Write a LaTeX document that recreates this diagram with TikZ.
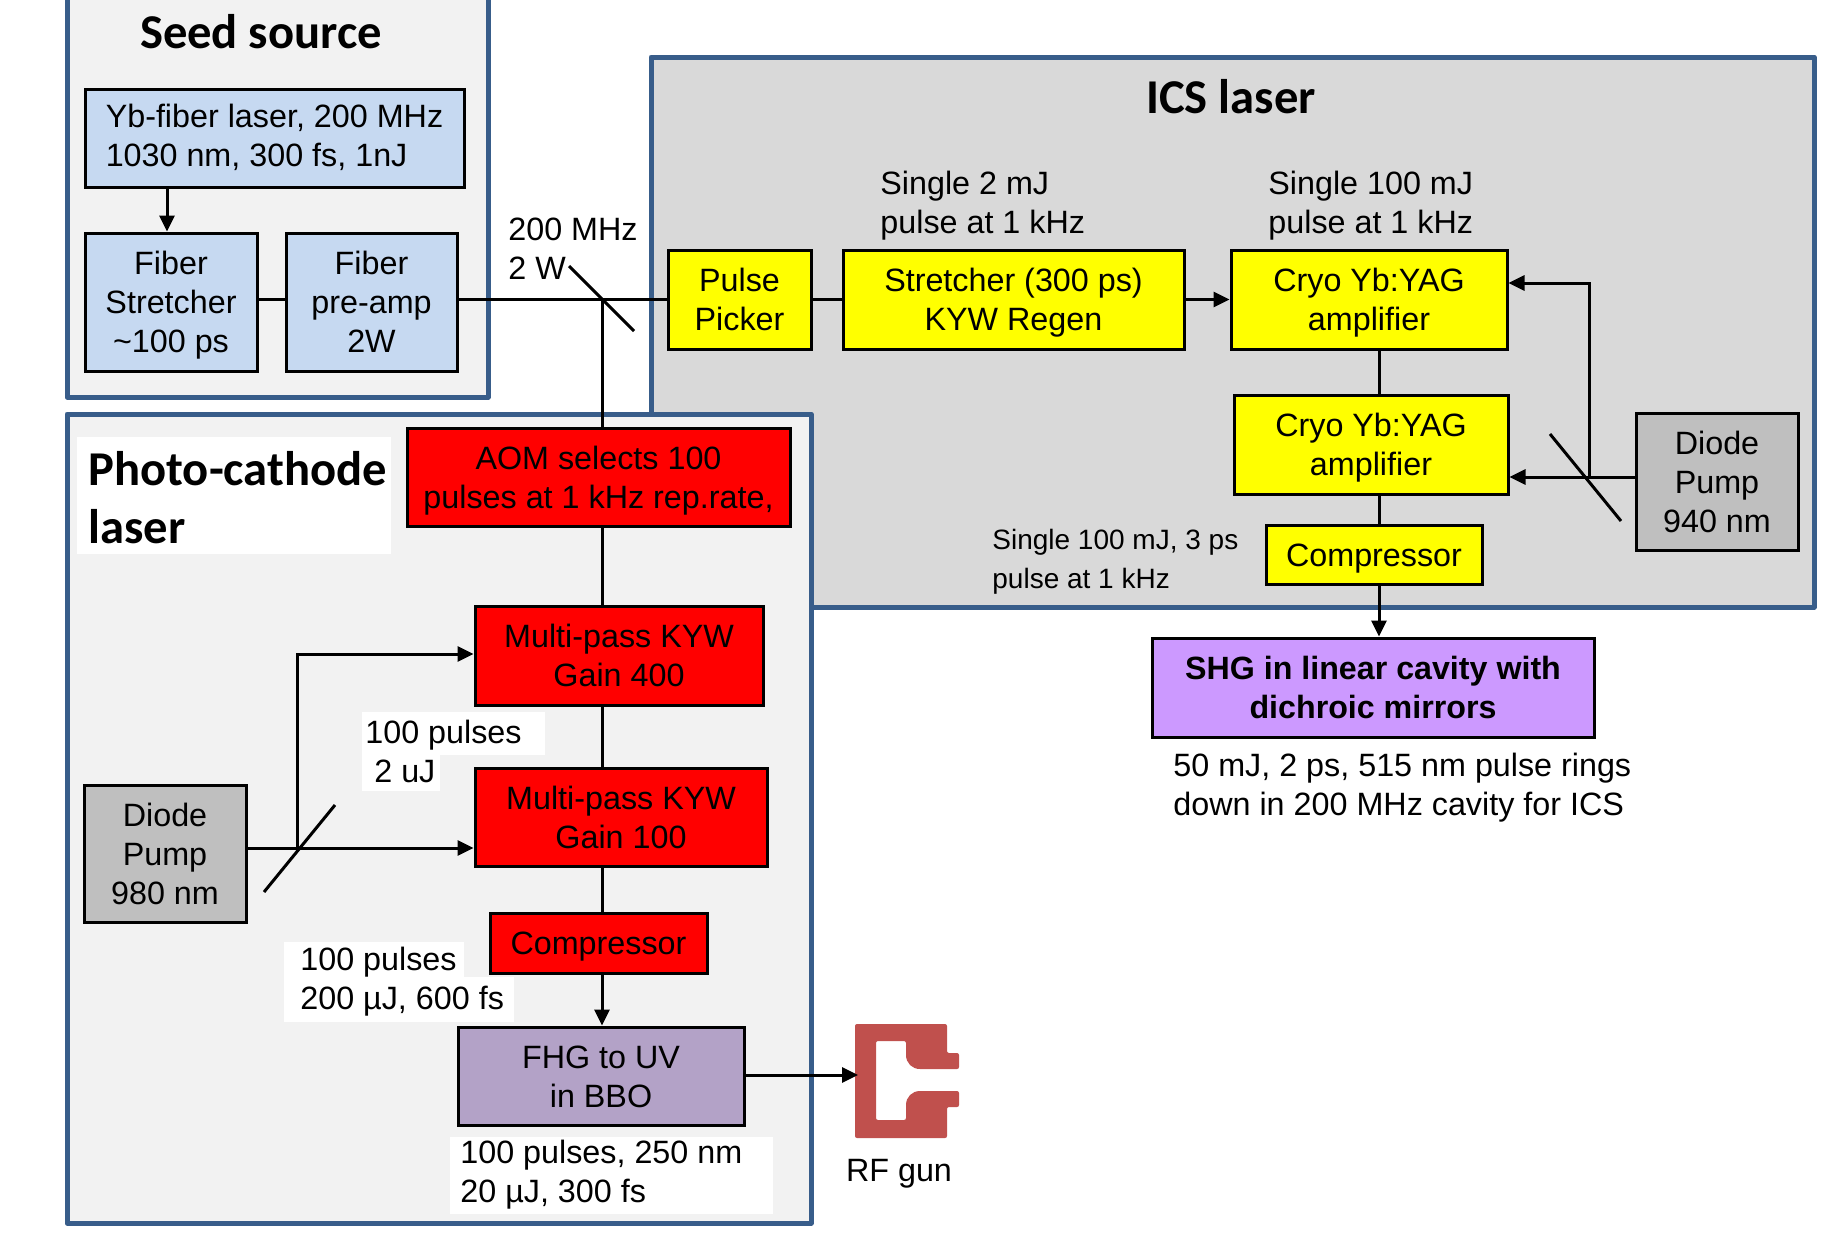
\documentclass[tikz,border=0pt]{standalone}
\usepackage{fontspec}
\setmainfont{Liberation Sans}
\newfontfamily\headfont{Carlito}
\usetikzlibrary{arrows.meta}
\definecolor{framecol}{HTML}{385D8A}
\definecolor{seedbg}{HTML}{F2F2F2}
\definecolor{icsbg}{HTML}{D9D9D9}
\definecolor{seedcol}{HTML}{C6D9F1}
\definecolor{ampcol}{HTML}{FFFF00}
\definecolor{aomcol}{HTML}{FF0000}
\definecolor{diodecol}{HTML}{BFBFBF}
\definecolor{fhgcol}{HTML}{B3A2C7}
\definecolor{shgcol}{HTML}{CC99FF}
\definecolor{guncol}{HTML}{C0504D}
\tikzset{
  toprule/.style={execute at begin node={\rule{0pt}{#1}}},
  twoline/.style={toprule=34.5pt},
  threeline/.style={toprule=54pt},
  strutted/.style={toprule=15pt, execute at end node={\rule[-3.4pt]{0pt}{3.4pt}}},
  blockbox/.style={draw=black, line width=1.5pt, align=center, inner sep=0pt, strutted, font=\fontsize{16.15}{19.5}\selectfont},
  seedbox/.style={blockbox, fill=seedcol},
  icsbox/.style={blockbox, fill=ampcol},
  pcbox/.style={blockbox, fill=aomcol},
  diodebox/.style={blockbox, threeline, fill=diodecol},
  framebox/.style={draw=framecol, line width=2.5pt, line join=round},
  headtext/.style={font=\headfont\bfseries\fontsize{24.3}{29}\selectfont, align=left, inner sep=0pt},
  sidetext/.style={font=\fontsize{16.15}{19.5}\selectfont, align=left, inner sep=0pt, anchor=west, strutted},
  beam/.style={line width=1.5pt},
  beamarrow/.style={beam, -{Triangle[length=8pt,width=7.5pt]}},
}
\begin{document}
\begin{tikzpicture}[x=0.5pt, y=-0.5pt]
\clip (0,0) rectangle (1834,1233);
\draw[framebox, fill=icsbg] (651,57) rectangle (1814,607);
\draw[framebox, fill=seedbg] (67,-10) rectangle (488,397);
\draw[framebox, fill=seedbg] (67,414) rectangle (811,1223);
\fill[white] (77,437) rectangle (391,554);
\fill[white] (362,712) rectangle (545,755);
\fill[white] (362,755) rectangle (440,791);
\fill[white] (284,942) rectangle (464,977);
\fill[white] (284,977) rectangle (514,1022);
\fill[white] (450,1137) rectangle (773,1214);
\node[headtext] (seedtitle) at (261,32) {Seed source};
\node[headtext] (icstitle) at (1231,97) {ICS laser};
\node[headtext, anchor=west] (pctitle) at (88,498) {Photo-cathode\\laser};
\node[seedbox, toprule=32pt, align=left, minimum width=189.5pt, minimum height=49pt] (fiberlaser) at (274.5,138) {Yb-fiber laser, 200 MHz\\1030 nm, 300 fs, 1nJ};
\node[seedbox, threeline, minimum width=86pt, minimum height=69pt] (fiberstretcher) at (171,302) {Fiber\\Stretcher\\\textasciitilde100 ps};
\node[seedbox, threeline, minimum width=85.5pt, minimum height=69pt] (preamp) at (371.5,302) {Fiber\\pre-amp\\2W};
\node[icsbox, twoline, minimum width=71.5pt, minimum height=49.5pt] (picker) at (739.5,299.5) {Pulse\\Picker};
\node[icsbox, twoline, minimum width=170.5pt, minimum height=49.5pt] (regen) at (1013.5,299.5) {Stretcher (300 ps)\\KYW Regen};
\node[icsbox, twoline, minimum width=138pt, minimum height=49.5pt] (cryoa) at (1369,299.5) {Cryo Yb:YAG\\amplifier};
\node[icsbox, twoline, minimum width=137pt, minimum height=49.5pt] (cryob) at (1371,444.5) {Cryo Yb:YAG\\amplifier};
\node[icsbox, minimum width=108pt, minimum height=29.5pt] (icscomp) at (1374,555) {Compressor};
\node[diodebox, minimum width=81pt, minimum height=68.5pt] (pumpics) at (1717,481.5) {Diode\\Pump\\940 nm};
\node[blockbox, twoline, fill=shgcol, minimum width=221pt, minimum height=49.5pt, font=\fontsize{16.1}{19.5}\selectfont\bfseries] (shg) at (1373,687.5) {SHG in linear cavity with\\dichroic mirrors};
\node[pcbox, twoline, minimum width=191.5pt, minimum height=49pt] (aom) at (598.5,477) {AOM selects 100\\pulses at 1 kHz rep.rate,};
\node[pcbox, twoline, minimum width=144pt, minimum height=49.5pt] (multia) at (619,655.5) {Multi-pass KYW\\Gain 400};
\node[pcbox, twoline, minimum width=146pt, minimum height=49pt] (multib) at (621,817) {Multi-pass KYW\\Gain 100};
\node[pcbox, minimum width=108.5pt, minimum height=30pt] (pccomp) at (598.5,943) {Compressor};
\node[blockbox, twoline, fill=fhgcol, minimum width=143pt, minimum height=49pt] (fhg) at (601,1076) {FHG to UV\\in BBO};
\node[diodebox, minimum width=81pt, minimum height=68.5pt] (pumppc) at (165,853.5) {Diode\\Pump\\980 nm};
\node[sidetext, twoline] (rateseed) at (508,248.5) {200 MHz\\2 W};
\node[sidetext, twoline] (energya) at (880,202) {Single 2 mJ\\pulse at 1 kHz};
\node[sidetext, twoline] (energyb) at (1268,202) {Single 100 mJ\\pulse at 1 kHz};
\node[sidetext, twoline, font=\fontsize{14}{19.5}\selectfont] (energyc) at (992,557) {Single 100 mJ, 3 ps\\pulse at 1 kHz};
\node[sidetext, twoline] (ringdown) at (1173,784) {50 mJ, 2 ps, 515 nm pulse rings\\down in 200 MHz cavity for ICS};
\node[sidetext, twoline] (pulsesa) at (365,751) {100 pulses\\\ 2 uJ};
\node[sidetext, twoline] (pulsesb) at (300,978) {100 pulses\\200 µJ, 600 fs};
\node[sidetext, twoline] (pulsesc) at (460,1171.5) {100 pulses, 250 nm\\20 µJ, 300 fs};
\node[sidetext, anchor=center] (gunlabel) at (899,1170) {RF gun};
\fill[guncol, rounded corners=1pt] (855,1024) -- (947,1024) -- (947,1053) -- (959,1053) -- (959,1069) -- (922,1069) .. controls (912,1069) and (906,1063) .. (906,1053) -- (906,1041) -- (876,1041) -- (876,1120) -- (906,1120) -- (906,1107) .. controls (906,1097) and (912,1091) .. (922,1091) -- (959,1091) -- (959,1107) -- (947,1107) -- (947,1138) -- (855,1138) -- cycle;
\coordinate (gunport) at (858,1075);
\coordinate (split) at (602,299.5);
\coordinate (pumpicsbranch) at (1589.5,477);
\coordinate (pumppcbranch) at (297,848);
\draw[beamarrow] (fiberlaser.south -| 167,0) -- (fiberstretcher.north -| 167,0);
\draw[beam] (fiberstretcher.east |- split) -- (preamp.west |- split);
\draw[beam] (preamp.east |- split) -- (picker.west);
\draw[beam] (picker.east) -- (regen.west);
\draw[beamarrow] (regen.east) -- (cryoa.west);
\draw[beam] (split) -- (aom.north -| split);
\draw[beam] (569,266) -- (634,331);
\draw[beam] (aom.south -| split) -- (multia.north -| split);
\draw[beam] (multia.south -| split) -- (multib.north -| split);
\draw[beam] (multib.south -| split) -- (pccomp.north -| split);
\draw[beamarrow] (pccomp.south -| split) -- (fhg.north -| split);
\draw[beamarrow] (fhg.east |- gunport) -- (gunport);
\draw[beamarrow] (pumppc.east |- pumppcbranch) -- (multib.west |- pumppcbranch);
\draw[beamarrow] (pumppcbranch) -- (297,654) -- (multia.west |- 0,654);
\draw[beam] (264,892) -- (335,805);
\draw[beam] (cryoa.south -| 1379,0) -- (cryob.north -| 1379,0);
\draw[beam] (cryob.south -| 1379,0) -- (icscomp.north -| 1379,0);
\draw[beamarrow] (icscomp.south -| 1379,0) -- (shg.north -| 1379,0);
\draw[beamarrow] (pumpics.west |- pumpicsbranch) -- (cryob.east |- pumpicsbranch);
\draw[beamarrow] (pumpicsbranch) -- (1589.5,283) -- (cryoa.east |- 0,283);
\draw[beam] (1550,434) -- (1621,521);
\end{tikzpicture}
\end{document}
